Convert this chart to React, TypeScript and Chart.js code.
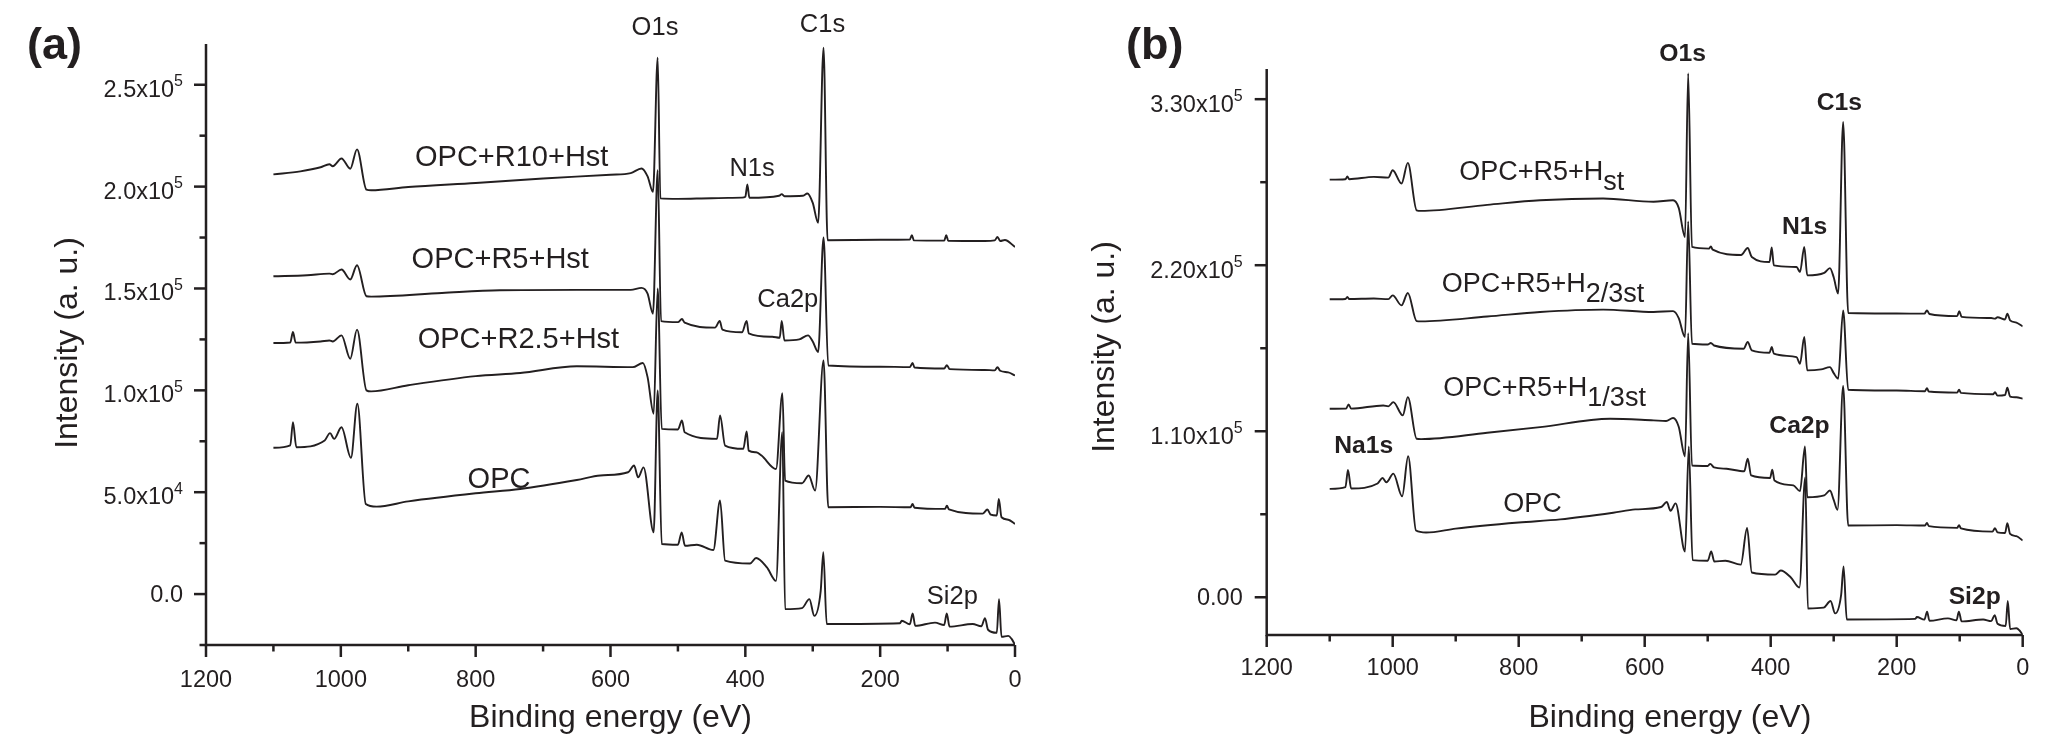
import { useEffect, useRef } from 'react';
import { Chart, registerables } from 'chart.js';

Chart.register(...registerables);

const INK = '#231f20';
const FONT = '"Liberation Sans", Arial, Helvetica, sans-serif';

// ---------- survey spectra: binding energy (eV) / intensity (a. u.) ----------

// OPC reference spectrum (shared by both panels)
const opcEnergy = [1100, 1075, 1071, 1066, 1024, 1016, 1010, 999, 985, 975.5, 963, 947, 900, 800, 734, 650, 615, 574, 565, 559, 551, 536, 530, 524, 500, 494.4, 489.5, 472, 447.5, 437.5, 430, 393, 384, 368, 354.5, 345.2, 341, 316, 305, 297.7, 288.2, 284.3, 279.3, 170.6, 168, 156, 151.8, 148, 118.7, 105, 101.3, 97, 62.8, 50, 44.5, 40, 27, 23.7, 20, 10, 5, 0];
const opcCounts = [71800, 73000, 84400, 72100, 75400, 79000, 76200, 81900, 66900, 93400, 44200, 42900, 45500, 49500, 51600, 56000, 58200, 59800, 63100, 57300, 62200, 30300, 100000, 24600, 24200, 30300, 23700, 24200, 21600, 45900, 16400, 15000, 17700, 13100, 6500, 79400, -7400, -6900, -2500, -10700, 1600, 20500, -14700, -14300, -13100, -14800, -9500, -15600, -14000, -15200, -9500, -16000, -14700, -15800, -11800, -17500, -19000, -2500, -21000, -20500, -22000, -24900];

// panel (a)
const r10Energy = [1100, 1060, 1030, 1017, 1012, 999, 986, 976, 962, 955, 900, 800, 700, 600, 570, 554, 545, 537, 530, 526, 500, 450, 405, 400, 397, 394, 350, 346, 342, 315, 308, 300, 292, 284, 278, 200, 156, 153, 150, 105, 102, 99, 45, 30, 26, 22, 15, 0];
const r10Counts = [206000, 207500, 209500, 211000, 210000, 213800, 208800, 218300, 198500, 198200, 199800, 201800, 204000, 205800, 206600, 208900, 205000, 197400, 263300, 194200, 194000, 194300, 194600, 195000, 201100, 194500, 195500, 196300, 195300, 195500, 196600, 192000, 182200, 268200, 173700, 173900, 174000, 176200, 173600, 173500, 176100, 173400, 173300, 173600, 175300, 173300, 173800, 170400];

const r5Energy = [1100, 1050, 1017, 1012, 999, 986, 976, 962, 955, 850, 764, 650, 570, 554, 545, 537, 530, 525, 500, 494, 490, 445, 438, 434, 405, 398, 395, 360, 349, 346, 342, 320, 307, 300, 292, 284, 277, 200, 156, 152, 149, 105, 101, 97, 45, 30, 26, 22, 10, 0];
const r5Counts = [156000, 156500, 157300, 157000, 159300, 154400, 161400, 146200, 146000, 147800, 149100, 149300, 149300, 150300, 147500, 137600, 208000, 134000, 133500, 135000, 133200, 130800, 134000, 129800, 128500, 134000, 128000, 126300, 125800, 134000, 124500, 125000, 127000, 124000, 118800, 175000, 112200, 111600, 111400, 113400, 111200, 110700, 112400, 110400, 110000, 109800, 111400, 109600, 108800, 107300];

const r25Energy = [1100, 1075, 1071, 1067, 1030, 1017, 1012, 999, 986, 976, 962, 955, 900, 800, 734, 650, 567, 552, 545, 536, 530, 524, 500, 494, 490, 442, 437.5, 430, 403, 398, 395, 384, 376, 354.5, 345, 341, 316, 306, 296.5, 284, 277, 200, 155, 152, 149, 104, 101, 98, 48, 41, 36, 27, 24, 20, 10, 0];
const r25Counts = [123200, 123500, 128600, 123400, 124000, 124500, 124000, 127000, 115500, 129800, 100000, 99500, 102500, 107000, 108500, 111800, 111400, 113400, 106500, 88500, 150000, 81100, 80800, 85200, 79400, 76200, 87700, 72900, 71300, 79800, 70400, 69600, 68000, 61400, 98600, 55700, 54400, 58200, 50800, 114700, 42600, 42800, 42600, 44200, 42400, 41800, 43400, 41600, 39500, 41500, 39000, 38600, 46700, 37700, 36500, 34400];

// panel (b)
const hFullEnergy = [1100, 1075, 1072, 1069, 1030, 1007, 1000, 986, 976, 962, 955, 850, 766, 666, 586, 555, 546, 536, 531, 525, 498, 495, 492, 447, 436.5, 430, 402, 398.4, 395, 359, 353.5, 346.7, 342, 315, 306, 300, 293, 285, 277, 200, 156, 152, 148, 104, 100.6, 97, 50, 44, 40, 28, 24.4, 20, 10, 0];
const hFullCounts = [276700, 277000, 278800, 277000, 278500, 278000, 282900, 274100, 287800, 256400, 256000, 260000, 263000, 264200, 262000, 263000, 258000, 238700, 347000, 232100, 231000, 232500, 230300, 226800, 231400, 225400, 222100, 231700, 219900, 218800, 215500, 232100, 213300, 215000, 218100, 212000, 201200, 315000, 188300, 188000, 187900, 190100, 187700, 186300, 189600, 185800, 185000, 184600, 185500, 184000, 187900, 183500, 182000, 179500];

const hTwoThirdEnergy = [1100, 1075, 1072, 1069, 1030, 1007, 1000, 986, 976, 962, 955, 850, 766, 666, 586, 555, 546, 536, 531, 525, 500, 495, 490, 443, 436.5, 430, 402, 398.4, 395, 359, 353.5, 346.7, 342, 320, 306, 300, 293, 285, 277, 200, 155, 152, 149, 104, 101, 98, 47, 44, 40, 28, 24.4, 20, 10, 0];
const hTwoThirdCounts = [197400, 197600, 199000, 197600, 197900, 197500, 200000, 193400, 201600, 183000, 182800, 186000, 189000, 190600, 189000, 189600, 185000, 172400, 249000, 168000, 167500, 168500, 166800, 164700, 169100, 163600, 162000, 165800, 161400, 159100, 154700, 172400, 150300, 151000, 152500, 148500, 144800, 190000, 137500, 137000, 136500, 138500, 136300, 135600, 137500, 135400, 134500, 135900, 133600, 134000, 138800, 133000, 132500, 131500];

const hOneThirdEnergy = [1100, 1074, 1070, 1066, 1015, 1007, 999, 984, 976, 962, 955, 850, 766, 655, 586, 566, 555, 546, 536, 531, 525, 500, 496, 490, 470, 442, 436.5, 431, 401, 397.5, 394, 364, 353.5, 345.6, 342, 315, 306, 300, 294, 285, 277, 200, 155, 152, 149, 104, 101, 98, 48, 44, 40, 28, 24.4, 20, 10, 0];
const hOneThirdCounts = [124900, 125000, 127800, 125000, 127100, 126500, 129300, 120500, 132600, 105000, 104800, 109000, 112700, 118300, 117200, 116800, 118800, 113000, 93300, 175000, 87300, 87000, 88400, 86000, 85100, 83500, 91800, 80700, 79000, 84500, 77400, 74100, 70300, 99900, 66300, 67500, 70700, 64500, 57900, 140000, 47500, 47800, 47500, 49300, 47100, 46000, 47800, 45600, 43500, 45800, 43000, 42600, 49100, 42000, 40500, 37600];

// ---------- axes ----------
const energyMajorTicks = [1200, 1000, 800, 600, 400, 200, 0];
const energyMinorTicks = [1100, 900, 700, 500, 300, 100];
const energyTickLabels = ['1200', '1000', '800', '600', '400', '200', '0'];

const aMajorTicks = [0, 50000, 100000, 150000, 200000, 250000];
const aMinorTicks = [-25000, 25000, 75000, 125000, 175000, 225000];
const aTickMantissa = ['0.0', '5.0x10', '1.0x10', '1.5x10', '2.0x10', '2.5x10'];
const aTickExponent = ['', '4', '5', '5', '5', '5'];

const bMajorTicks = [0, 110000, 220000, 330000];
const bMinorTicks = [55000, 165000, 275000];
const bTickMantissa = ['0.00', '1.10x10', '2.20x10', '3.30x10'];
const bTickExponent = ['', '5', '5', '5'];

// ---------- annotations (anchored in data space) ----------
const aPeakNames = ['O1s', 'C1s', 'N1s', 'Ca2p', 'Si2p'];
const aPeakEnergy = [534, 285.5, 390, 337, 93];
const aPeakLevel = [274500, 276100, 205100, 140900, -4900];

const aSampleNames = ['OPC+R10+Hst', 'OPC+R5+Hst', 'OPC+R2.5+Hst', 'OPC'];
const aSampleSub = ['', '', '', ''];
const aSampleEnergy = [890, 895, 886, 812];
const aSampleLevel = [210200, 159900, 120600, 52300];

const bPeakNames = ['O1s', 'C1s', 'N1s', 'Ca2p', 'Si2p', 'Na1s'];
const bPeakEnergy = [539.7, 291.1, 346.3, 354.3, 76.2, 1045.9];
const bPeakLevel = [355200, 322700, 241000, 108700, -4400, 95500];

const bSampleNames = ['OPC+R5+H', 'OPC+R5+H', 'OPC+R5+H', 'OPC'];
const bSampleSub = ['st', '2/3st', '1/3st', ''];
const bSampleEnergy = [894.3, 922.2, 919.7, 824.4];
const bSampleLevel = [276300, 202200, 133100, 56400];

type Series = { energy: number[]; counts: number[] };

type PanelStyle = {
  padding: { left: number; right: number; top: number; bottom: number };
  majorLen: number;
  minorLen: number;
  tickSize: number;
  supSize: number;
  supRise: number;
  yLabelGap: number;
  supLabelDrop: number;
  plainLabelDrop: number;
  xLabelDrop: number;
  titleSize: number;
  xTitleEnergy: number;
  xTitleBaseline: number;
  yTitleX: number;
  yTitleY: number;
  letterX: number;
  letterY: number;
  letterSize: number;
  peakSize: number;
  peakBold: boolean;
  sampleSize: number;
  subSize: number;
  subDrop: number;
};

type Panel = {
  letter: string;
  yMin: number;
  yMax: number;
  majorY: number[];
  minorY: number[];
  mantissa: string[];
  exponent: string[];
  series: Series[];
  peakNames: string[];
  peakEnergy: number[];
  peakLevel: number[];
  sampleNames: string[];
  sampleSub: string[];
  sampleEnergy: number[];
  sampleLevel: number[];
  style: PanelStyle;
};

const panelA: Panel = {
  letter: '(a)',
  yMin: -25000,
  yMax: 270000,
  majorY: aMajorTicks,
  minorY: aMinorTicks,
  mantissa: aTickMantissa,
  exponent: aTickExponent,
  series: [
    { energy: r10Energy, counts: r10Counts },
    { energy: r5Energy, counts: r5Counts },
    { energy: r25Energy, counts: r25Counts },
    { energy: opcEnergy, counts: opcCounts },
  ],
  peakNames: aPeakNames,
  peakEnergy: aPeakEnergy,
  peakLevel: aPeakLevel,
  sampleNames: aSampleNames,
  sampleSub: aSampleSub,
  sampleEnergy: aSampleEnergy,
  sampleLevel: aSampleLevel,
  style: {
    padding: { left: 206, right: 9, top: 44, bottom: 103 },
    majorLen: 12,
    minorLen: 6.5,
    tickSize: 23.5,
    supSize: 16,
    supRise: 10.5,
    yLabelGap: 23,
    supLabelDrop: 12,
    plainLabelDrop: 7.5,
    xLabelDrop: 42,
    titleSize: 32,
    xTitleEnergy: 600,
    xTitleBaseline: 727,
    yTitleX: 77,
    yTitleY: 343,
    letterX: 27,
    letterY: 59,
    letterSize: 45,
    peakSize: 25.5,
    peakBold: false,
    sampleSize: 29,
    subSize: 29,
    subDrop: 0,
  },
};

const panelB: Panel = {
  letter: '(b)',
  yMin: -25000,
  yMax: 350000,
  majorY: bMajorTicks,
  minorY: bMinorTicks,
  mantissa: bTickMantissa,
  exponent: bTickExponent,
  series: [
    { energy: hFullEnergy, counts: hFullCounts },
    { energy: hTwoThirdEnergy, counts: hTwoThirdCounts },
    { energy: hOneThirdEnergy, counts: hOneThirdCounts },
    { energy: opcEnergy, counts: opcCounts },
  ],
  peakNames: bPeakNames,
  peakEnergy: bPeakEnergy,
  peakLevel: bPeakLevel,
  sampleNames: bSampleNames,
  sampleSub: bSampleSub,
  sampleEnergy: bSampleEnergy,
  sampleLevel: bSampleLevel,
  style: {
    padding: { left: 242.7, right: 25.3, top: 69, bottom: 113 },
    majorLen: 12,
    minorLen: 6.5,
    tickSize: 23.5,
    supSize: 16,
    supRise: 11,
    yLabelGap: 24,
    supLabelDrop: 12.5,
    plainLabelDrop: 8,
    xLabelDrop: 40,
    titleSize: 32,
    xTitleEnergy: 560,
    xTitleBaseline: 727,
    yTitleX: 90,
    yTitleY: 347,
    letterX: 102,
    letterY: 59,
    letterSize: 45,
    peakSize: 24.7,
    peakBold: true,
    sampleSize: 27,
    subSize: 27,
    subDrop: 10,
  },
};

// Draws the axis frame, tick marks, tick labels, titles and text annotations.
function makeFrame(p: Panel) {
  return {
    id: 'xpsFrame',
    afterDatasetsDraw(chart: Chart) {
      const ctx = chart.ctx;
      const xs = chart.scales.x;
      const ys = chart.scales.y;
      const { left, right, top, bottom } = chart.chartArea;
      const s = p.style;

      ctx.save();
      ctx.strokeStyle = INK;
      ctx.fillStyle = INK;
      ctx.lineWidth = 2.5;
      ctx.lineJoin = 'miter';
      ctx.lineCap = 'butt';

      // axis lines (left + bottom only)
      ctx.beginPath();
      ctx.moveTo(left, top);
      ctx.lineTo(left, bottom);
      ctx.lineTo(right, bottom);
      ctx.stroke();

      const seg = (x1: number, y1: number, x2: number, y2: number) => {
        ctx.beginPath();
        ctx.moveTo(x1, y1);
        ctx.lineTo(x2, y2);
        ctx.stroke();
      };

      // y tick marks
      p.majorY.forEach((v) => {
        const y = ys.getPixelForValue(v);
        seg(left - s.majorLen, y, left, y);
      });
      p.minorY.forEach((v) => {
        const y = ys.getPixelForValue(v);
        seg(left - s.minorLen, y, left, y);
      });
      // x tick marks
      energyMajorTicks.forEach((e) => {
        const x = xs.getPixelForValue(e);
        seg(x, bottom, x, bottom + s.majorLen);
      });
      energyMinorTicks.forEach((e) => {
        const x = xs.getPixelForValue(e);
        seg(x, bottom, x, bottom + s.minorLen);
      });

      // y tick labels with superscript exponent
      ctx.textBaseline = 'alphabetic';
      ctx.textAlign = 'left';
      p.majorY.forEach((v, i) => {
        const y = ys.getPixelForValue(v);
        const m = p.mantissa[i];
        const ex = p.exponent[i];
        ctx.font = `${s.tickSize}px ${FONT}`;
        const wm = ctx.measureText(m).width;
        ctx.font = `${s.supSize}px ${FONT}`;
        const we = ex ? ctx.measureText(ex).width : 0;
        const x0 = left - s.yLabelGap - wm - we;
        const base = y + (ex ? s.supLabelDrop : s.plainLabelDrop);
        ctx.font = `${s.tickSize}px ${FONT}`;
        ctx.fillText(m, x0, base);
        if (ex) {
          ctx.font = `${s.supSize}px ${FONT}`;
          ctx.fillText(ex, x0 + wm, base - s.supRise);
        }
      });

      // x tick labels
      ctx.textAlign = 'center';
      ctx.font = `${s.tickSize}px ${FONT}`;
      energyMajorTicks.forEach((e, i) => {
        const x = xs.getPixelForValue(e);
        ctx.fillText(energyTickLabels[i], x, bottom + s.xLabelDrop);
      });

      // axis titles
      ctx.font = `${s.titleSize}px ${FONT}`;
      ctx.textAlign = 'center';
      ctx.fillText('Binding energy (eV)', xs.getPixelForValue(s.xTitleEnergy), s.xTitleBaseline);
      ctx.save();
      ctx.translate(s.yTitleX, s.yTitleY);
      ctx.rotate(-Math.PI / 2);
      ctx.fillText('Intensity (a. u.)', 0, 0);
      ctx.restore();

      // panel letter
      ctx.textAlign = 'left';
      ctx.font = `bold ${s.letterSize}px ${FONT}`;
      ctx.fillText(p.letter, s.letterX, s.letterY);

      // peak assignments
      ctx.textAlign = 'center';
      ctx.font = `${s.peakBold ? 'bold ' : ''}${s.peakSize}px ${FONT}`;
      p.peakNames.forEach((t, i) => {
        ctx.fillText(t, xs.getPixelForValue(p.peakEnergy[i]), ys.getPixelForValue(p.peakLevel[i]));
      });

      // sample names (with optional subscript)
      ctx.textAlign = 'left';
      p.sampleNames.forEach((t, i) => {
        const x = xs.getPixelForValue(p.sampleEnergy[i]);
        const y = ys.getPixelForValue(p.sampleLevel[i]);
        ctx.font = `${s.sampleSize}px ${FONT}`;
        ctx.fillText(t, x, y);
        const sub = p.sampleSub[i];
        if (sub) {
          const w = ctx.measureText(t).width;
          ctx.font = `${s.subSize}px ${FONT}`;
          ctx.fillText(sub, x + w, y + s.subDrop);
        }
      });

      ctx.restore();
    },
  };
}

function SpectrumPanel({ panel, offset }: { panel: Panel; offset: number }) {
  const ref = useRef<HTMLCanvasElement>(null);

  useEffect(() => {
    const canvas = ref.current;
    if (!canvas) return;
    const chart = new Chart(canvas, {
      type: 'line',
      data: {
        datasets: panel.series.map((sr) => ({
          data: sr.energy.map((e, i) => ({ x: e, y: sr.counts[i] })),
          borderColor: INK,
          borderWidth: 1.9,
          borderJoinStyle: 'round',
          pointRadius: 0,
          cubicInterpolationMode: 'monotone',
          fill: false,
        })),
      },
      options: {
        animation: false,
        responsive: false,
        devicePixelRatio: 1,
        events: [],
        layout: { padding: panel.style.padding },
        plugins: {
          legend: { display: false },
          tooltip: { enabled: false },
        },
        scales: {
          x: { type: 'linear', reverse: true, min: 0, max: 1200, display: false },
          y: { type: 'linear', min: panel.yMin, max: panel.yMax, display: false },
        },
      },
      plugins: [makeFrame(panel)],
    });
    return () => chart.destroy();
  }, [panel]);

  return (
    <canvas
      ref={ref}
      width={1024}
      height={748}
      style={{ position: 'absolute', left: offset, top: 0, width: 1024, height: 748 }}
    />
  );
}

export default function App() {
  return (
    <div
      style={{
        position: 'fixed',
        left: 0,
        top: 0,
        width: 2048,
        height: 748,
        background: '#ffffff',
        overflow: 'hidden',
      }}
    >
      <SpectrumPanel panel={panelA} offset={0} />
      <SpectrumPanel panel={panelB} offset={1024} />
    </div>
  );
}
